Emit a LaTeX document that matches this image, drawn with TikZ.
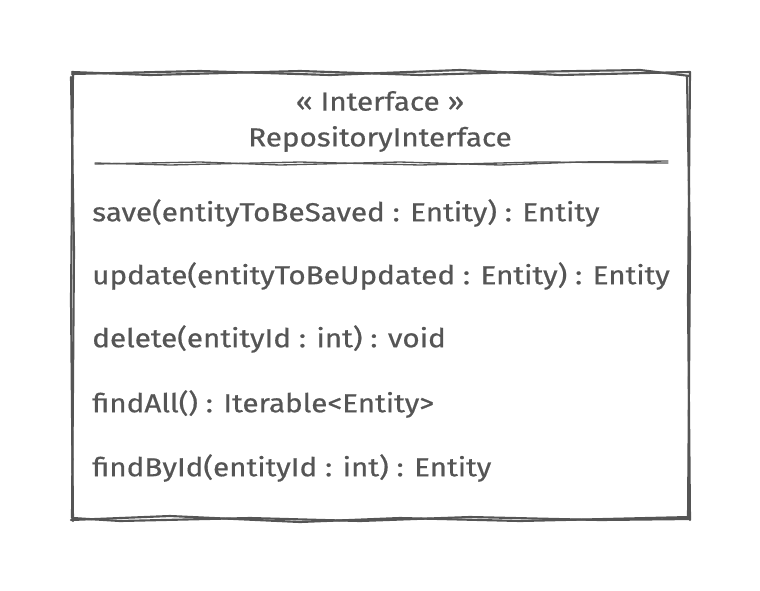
\documentclass[tikz,border=0pt]{standalone}
\usepackage{fontspec}
\setmainfont{Fira Sans}[FakeStretch=1.14,FakeBold=0.6]
\definecolor{ink}{HTML}{555555}
\begin{document}
\begin{tikzpicture}[x=0.75pt,y=-0.75pt,
  sk/.style={draw=ink,line width=1.6pt,line join=round,line cap=round},
  txt/.style={text=ink,font=\fontsize{19.5pt}{22pt}\selectfont,inner sep=0pt},
  meth/.style={txt,anchor=west}]
\useasboundingbox (0,0) rectangle (760,590);
% top
\draw[sk] (72,74) -- (200,71) -- (330,75) -- (460,70) -- (560,75) -- (690,72);
\draw[sk] (72,72) -- (150,75) -- (300,71) -- (420,75) -- (520,72) -- (640,70) -- (690,76);
% right
\draw[sk] (690,72) -- (688,300) -- (690,520);
\draw[sk] (687,76) -- (690,250) -- (688,518);
% bottom
\draw[sk] (71,520) -- (170,516) -- (300,522) -- (400,518) -- (520,521) -- (690,517);
\draw[sk] (73,518) -- (120,521) -- (250,518) -- (360,521) -- (470,517) -- (600,520) -- (690,519);
% left
\draw[sk] (73,72) -- (71,300) -- (73,521);
\draw[sk] (71,77) -- (74,250) -- (72,518);
% separator
\draw[sk,line width=1pt] (95,164) -- (200,162) -- (280,165) -- (400,162) -- (500,165) -- (580,162) -- (668,161);
\draw[sk,line width=1pt] (95,163) -- (170,165) -- (300,162) -- (420,165) -- (540,162) -- (668,163);
% texts
\node[txt] (stereo) at (380,101) {« Interface »};
\node[txt] (name) at (380,139) {RepositoryInterface};
\node[meth] (m1) at (92,213) {save(entityToBeSaved : Entity) : Entity};
\node[meth] (m2) at (92,276) {update(entityToBeUpdated : Entity) : Entity};
\node[meth] (m3) at (92,339) {delete(entityId : int) : void};
\node[meth] (m4) at (92,404) {findAll() : Iterable<Entity>};
\node[meth] (m5) at (92,468) {findById(entityId : int) : Entity};
\end{tikzpicture}
\end{document}
